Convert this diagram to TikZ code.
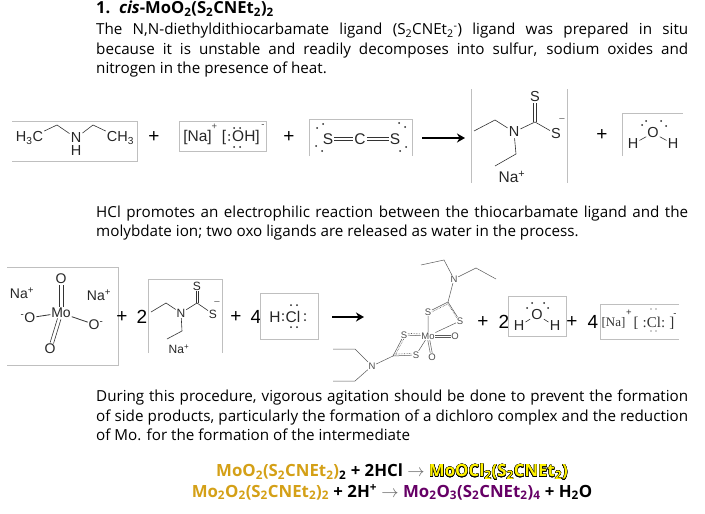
\documentclass[tikz,border=0pt]{standalone}
\usepackage{xcolor}
\usepackage{fontspec}
\usepackage[copies]{contour}
\setmainfont{Open Sans}
\newfontfamily\chemfont{Liberation Sans}
\newfontfamily\ionfont{Liberation Serif}
\usetikzlibrary{arrows.meta}
\definecolor{goldtext}{RGB}{212,160,23}
\definecolor{purpletext}{RGB}{102,0,102}
\contourlength{0.35pt}
\newcommand{\doublebond}[5][bond]{%
  \draw[#1,transform canvas={xshift=#4,yshift=#5}] (#2) -- (#3);
  \draw[#1,transform canvas={xshift=-#4,yshift=-#5}] (#2) -- (#3);}
\tikzset{
  para/.style={anchor=north west,inner sep=0pt,text width=592pt,align=justify,font=\fontsize{15.2}{19.55}\selectfont},
  eqline/.style={inner sep=0pt,font=\fontsize{16.8}{18}\selectfont\bfseries},
  atom/.style={inner sep=1pt,font=\chemfont\fontsize{14.5}{15}\selectfont,text=black!85},
  bigatom/.style={atom,font=\chemfont\fontsize{15.5}{16}\selectfont},
  midatom/.style={inner sep=.8pt,font=\chemfont\fontsize{14}{14}\selectfont,text=black!85},
  smallatom/.style={inner sep=.8pt,font=\chemfont\fontsize{12}{13}\selectfont,text=black!85},
  tinyatom/.style={inner sep=.6pt,font=\chemfont\fontsize{9.5}{10}\selectfont,text=black!70},
  sign/.style={inner sep=0pt,font=\chemfont\fontsize{19}{20}\selectfont},
  ion/.style={inner sep=0pt,font=\ionfont\fontsize{13}{14}\selectfont,text=black!80},
  bond/.style={line width=.6pt,black!80},
  thinbond/.style={line width=.5pt,black!65},
  dotbond/.style={line width=.6pt,black!65,densely dotted},
  boxline/.style={line width=.6pt,black!25},
  yields/.style={line width=1.5pt,-{Stealth[length=8pt,width=9pt,inset=2.5pt]}},
  dot/.style={radius=1pt,black!85},
}
\begin{document}
\begin{tikzpicture}[x=1pt,y=-1pt]
  \useasboundingbox (0,0) rectangle (705,514);
  \node[anchor=west,inner sep=0pt,font=\fontsize{16.6}{18}\selectfont\bfseries] (title) at (96,9) {1.\ \ \textit{cis}-MoO\textsubscript{2}(S\textsubscript{2}CNEt\textsubscript{2})\textsubscript{2}};
  \node[para] (parone) at (96,23) {The N,N-diethyldithiocarbamate ligand (S\textsubscript{2}CNEt\textsubscript{2}\textsuperscript{-}) ligand was prepared in situ\linebreak because it is unstable and readily decomposes into sulfur, sodium oxides and\linebreak nitrogen in the presence of heat.};
  \node[para] (partwo) at (96,205.5) {HCl promotes an electrophilic reaction between the thiocarbamate ligand and the\linebreak molybdate ion; two oxo ligands are released as water in the process.};
  \node[para] (parthree) at (96,390) {During this procedure, vigorous agitation should be done to prevent the formation\linebreak of side products, particularly the formation of a dichloro complex and the reduction\linebreak of Mo. for the formation of the intermediate};

  \draw[boxline] (12,121) -- (137,121) -- (137,161) -- (12,161);
  \node[atom] (hc) at (29.5,138) {H\textsubscript{3}C};
  \node[atom] (nh) at (76,138) {N};
  \node[atom] (hn) at (76,151) {H};
  \node[atom] (ch) at (120.5,138) {CH\textsubscript{3}};
  \coordinate (ea) at (57,125);
  \coordinate (eb) at (93,125);
  \draw[bond] (hc) -- (ea) -- (nh) -- (eb) -- (ch);
  \node[sign] (pa) at (154,137) {+};

  \draw[boxline] (179,121) rectangle (266,151);
  \node[bigatom] (naa) at (197.5,137) {[Na]};
  \node[tinyatom] (naplus) at (214.5,127) {+};
  \node[bigatom] (obr) at (224,137) {[};
  \node[bigatom] (oh) at (246,137) {OH]};
  \node[tinyatom] (ohminus) at (263,126) {-};
  \foreach \px/\py in {229/135,229/140,234/128,240/128,234/147,240/147}
    \fill[dot] (\px,\py) circle;
  \node[sign] (pb) at (289,137) {+};

  \draw[boxline] (309,156) -- (309,119) -- (412,119) -- (412,156);
  \node[bigatom] (sa) at (328,139) {S};
  \node[bigatom] (ca) at (360,139) {C};
  \node[bigatom] (sb) at (395,139) {S};
  \doublebond{sa}{ca}{0pt}{1.3pt}
  \doublebond{ca}{sb}{0pt}{1.3pt}
  \foreach \px/\py in {317/128,323/124,316/146,322/151,399/123,405/127,406/147,400/151}
    \fill[dot] (\px,\py) circle;

  \coordinate (ya) at (422,138);
  \coordinate (yb) at (465,138);
  \draw[yields] (ya) -- (yb);

  \draw[boxline] (471,89) -- (471,183);
  \draw[boxline] (567,89) -- (567,183);
  \node[atom] (st) at (535,97) {S};
  \coordinate (cb) at (535,122);
  \node[atom] (nb) at (514,132) {N};
  \node[atom] (sm) at (556,134) {S};
  \node[tinyatom] (mb) at (562,120) {\textendash};
  \coordinate (ec) at (495,120);
  \coordinate (ed) at (474,131);
  \coordinate (ee) at (516,154);
  \coordinate (ef) at (495,166);
  \node[bigatom] (nac) at (512,177) {Na\textsuperscript{+}};
  \doublebond{st}{cb}{1.3pt}{0pt}
  \draw[bond] (nb) -- (cb) -- (sm);
  \draw[bond] (ed) -- (ec) -- (nb) -- (ee) -- (ef);
  \node[sign] (pc) at (602,135) {+};

  \draw[boxline] (622,156) -- (622,113) -- (683,113);
  \node[atom] (ha) at (633,144) {H};
  \node[atom] (oa) at (653,133) {O};
  \node[atom] (hb) at (673,144) {H};
  \draw[bond] (ha) -- (oa) -- (hb);
  \foreach \px/\py in {642/125,646/121,661/121,666/126}
    \fill[dot] (\px,\py) circle;

  \draw[boxline] (7,267) -- (118,267) -- (118,365) -- (7,365);
  \node[midatom] (nad) at (22,293) {Na\textsuperscript{+}};
  \node[midatom] (nae) at (99,295) {Na\textsuperscript{+}};
  \node[midatom] (mo) at (61,313) {Mo};
  \node[midatom] (ob) at (61,279) {O};
  \node[midatom] (oc) at (28,318) {\textsuperscript{-}O};
  \node[midatom] (od) at (96,325) {O\textsuperscript{-}};
  \node[midatom] (oe) at (50,349) {O};
  \doublebond{mo}{ob}{1.8pt}{0pt}
  \doublebond{mo}{oe}{1.7pt}{-.5pt}
  \draw[bond,line width=.8pt] (oc) -- (mo) -- (od);
  \node[sign] (pd) at (122,317) {+};
  \node[sign] (twoa) at (142,317) {2};

  \draw[boxline] (148,353) -- (148,279) -- (222,279) -- (222,353);
  \node[smallatom] (sc) at (197,286) {S};
  \coordinate (cc) at (197,303);
  \node[smallatom] (nc) at (181,313) {N};
  \node[smallatom] (sd) at (213,314) {S};
  \node[tinyatom] (mc) at (217,303) {\textendash};
  \coordinate (eg) at (166,303);
  \coordinate (eh) at (151,312);
  \coordinate (ei) at (182,331);
  \coordinate (ej) at (167,339);
  \node[smallatom] (naf) at (179,349) {Na\textsuperscript{+}};
  \doublebond{sc}{cc}{1.1pt}{0pt}
  \draw[bond] (nc) -- (cc) -- (sd);
  \draw[bond] (eh) -- (eg) -- (nc) -- (ei) -- (ej);
  \node[sign] (pe) at (236,317) {+};
  \node[sign] (foura) at (256,317) {4};

  \draw[boxline] (260,293) rectangle (318,339);
  \node[bigatom] (hd) at (275,317) {H};
  \node[bigatom] (cl) at (293,317) {Cl};
  \foreach \px/\py in {283/314,283/320,291/305,297/305,291/327,297/327,305/314,305/320}
    \fill[dot] (\px,\py) circle;

  \coordinate (yc) at (332,317);
  \coordinate (yd) at (364,317);
  \draw[yields] (yc) -- (yd);

  \node[tinyatom] (nd) at (454,279) {N};
  \coordinate (ek) at (421,265);
  \coordinate (el) at (444,260);
  \coordinate (em) at (476,268);
  \coordinate (en) at (496,279);
  \coordinate (cd) at (448,302);
  \node[tinyatom] (se) at (428,312) {S};
  \node[tinyatom] (sf) at (460,321) {S};
  \node[tinyatom] (moc) at (428,336) {Mo};
  \node[tinyatom] (sg) at (404,335) {S};
  \node[tinyatom] (sh) at (416,355) {S};
  \coordinate (ce) at (393,356);
  \node[tinyatom] (ne) at (372,366) {N};
  \coordinate (eo) at (355,349);
  \coordinate (ep) at (333,349);
  \coordinate (eq) at (355,381);
  \coordinate (er) at (333,381);
  \node[tinyatom] (of) at (455,336) {O};
  \node[tinyatom] (og) at (432,357) {O};
  \draw[thinbond] (ek) -- (el) -- (nd) -- (em) -- (en);
  \draw[thinbond] (nd) -- (cd) -- (se) -- (moc) -- (sf) -- (cd);
  \draw[thinbond] (sg) -- (moc) -- (sh) -- (ce) -- (sg);
  \draw[thinbond] (ce) -- (ne);
  \draw[thinbond] (er) -- (eq) -- (ne) -- (eo) -- (ep);
  \doublebond[thinbond]{moc}{of}{0pt}{1pt}
  \doublebond[thinbond]{moc}{og}{1pt}{0pt}
  \draw[dotbond,transform canvas={yshift=-1.8pt}] (cd) -- (se);
  \draw[dotbond,transform canvas={yshift=-1.8pt}] (cd) -- (sf);
  \draw[dotbond,transform canvas={xshift=1.8pt}] (sg) -- (ce);
  \draw[dotbond,transform canvas={yshift=1.8pt}] (ce) -- (sh);
  \draw[dotbond,transform canvas={yshift=1.8pt}] (sg) -- (moc);

  \node[sign] (pf) at (483,322) {+};
  \node[sign] (twob) at (504,322) {2};
  \draw[boxline] (508,296) rectangle (566,336);
  \node[atom] (he) at (519,326) {H};
  \node[atom] (oh2) at (537,315) {O};
  \node[atom] (hf) at (555,326) {H};
  \draw[bond] (he) -- (oh2) -- (hf);
  \foreach \px/\py in {527/308,532/303,544/303,548/308}
    \fill[dot] (\px,\py) circle;
  \node[sign] (pg) at (572,322) {+};
  \node[sign] (fourb) at (593,322) {4};

  \draw[boxline] (679,304) -- (600,304) -- (600,339) -- (679,339);
  \node[ion] (nag) at (613.5,323) {[Na]};
  \node[tinyatom,text=black!80] (nagplus) at (629,313) {+};
  \node[ion,font=\ionfont\fontsize{15}{16}\selectfont] (clion) at (654,323) {[\;:Cl:\;]};
  \node[tinyatom,text=black!80] (clminus) at (675,315) {-};
  \foreach \px/\py in {651/309,656/309,651/331,656/331}
    \fill[dot,radius=.6pt] (\px,\py) circle;

  \node[eqline] (eqone) at (392,472) {\textcolor{goldtext}{MoO\textsubscript{2}(S\textsubscript{2}CNEt\textsubscript{2})}\textsubscript{2} + 2HCl \textcolor{black!60}{\normalfont$\rightarrow$} \contour{black}{\textcolor{yellow}{MoOCl\textsubscript{2}(S\textsubscript{2}CNEt\textsubscript{2})}}};
  \node[eqline] (eqtwo) at (392,492) {\textcolor{goldtext}{Mo\textsubscript{2}O\textsubscript{2}(S\textsubscript{2}CNEt\textsubscript{2})\textsubscript{2}} + 2H\textsuperscript{+} \textcolor{black!60}{\normalfont$\rightarrow$} \textcolor{purpletext}{Mo\textsubscript{2}O\textsubscript{3}(S\textsubscript{2}CNEt\textsubscript{2})\textsubscript{4}} + H\textsubscript{2}O};
\end{tikzpicture}
\end{document}
